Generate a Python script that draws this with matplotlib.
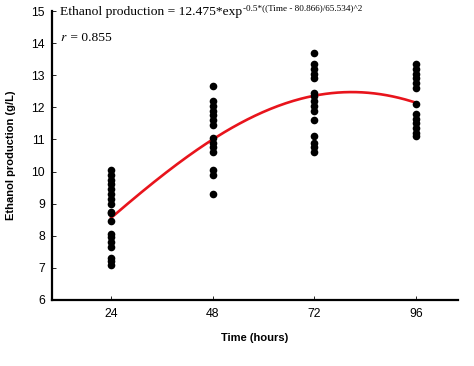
import matplotlib
matplotlib.use("Agg")
import matplotlib.pyplot as plt
import numpy as np

# ---- data ----
times = [24, 48, 72, 96]
g24 = [10.05, 9.9, 9.75, 9.6, 9.45, 9.3, 9.15, 9.0, 8.75, 8.7, 8.45,
       8.05, 7.95, 7.8, 7.65, 7.3, 7.2, 7.1]
g48 = [12.65, 12.2, 12.05, 11.9, 11.75, 11.6, 11.45, 11.05, 10.9, 10.75,
       10.6, 10.05, 9.9, 9.3]
g72 = [13.7, 13.35, 13.2, 13.05, 12.9, 12.45, 12.35, 12.2, 12.05, 11.9,
       11.6, 11.1, 10.9, 10.75, 10.6]
g96 = [13.35, 13.2, 13.05, 12.9, 12.75, 12.6, 12.1, 11.8, 11.65, 11.5,
       11.35, 11.2, 11.1]
groups = [g24, g48, g72, g96]
# fitted Gaussian model parameters
fit_a, fit_mu, fit_sigma = 12.475, 80.866, 65.534
r_value = 0.855
xticks = [24, 48, 72, 96]
yticks = [6, 7, 8, 9, 10, 11, 12, 13, 14, 15]

fig = plt.figure(figsize=(4.74, 3.66), dpi=100)
ax = fig.add_axes([52/474, 66/366, (458-52)/474, (300-11)/366])

for t, vals in zip(times, groups):
    ax.plot([t]*len(vals), vals, 'o', color='black', markersize=5.5,
            markeredgewidth=0, zorder=3)

tt = np.linspace(times[0], times[-1], 200)
yy = fit_a*np.exp(-0.5*((tt-fit_mu)/fit_sigma)**2)
ax.plot(tt, yy, color='#e8141c', lw=1.9, zorder=2)

ax.set_xlim(10, 106)
ax.set_ylim(6, 15)
ax.set_xticks(xticks)
ax.set_yticks(yticks)
for s in ['top', 'right']:
    ax.spines[s].set_visible(False)
for s in ['left', 'bottom']:
    ax.spines[s].set_linewidth(1.6)
ax.tick_params(direction='in', length=3, width=0.6, labelsize=8.8, pad=5)
for lab in ax.get_xticklabels() + ax.get_yticklabels():
    lab.set_fontfamily('Liberation Sans')
ax.tick_params(axis='x', pad=6)

ax.set_xlabel('Time (hours)', fontfamily='Liberation Sans', fontweight='bold',
              fontsize=8, labelpad=9)
ax.set_ylabel('Ethanol production (g/L)', fontfamily='Liberation Sans',
              fontweight='bold', fontsize=8, labelpad=11)

t1 = fig.text(60/474, 1-12/366, 'Ethanol production = 12.475*exp',
              fontfamily='Liberation Serif', fontsize=9.7, va='center')
fig.canvas.draw()
bb = t1.get_window_extent()
fig.text((bb.x1+1)/474, 1-8/366, '-0.5*((Time - 80.866)/65.534)^2',
         fontfamily='Liberation Serif', fontsize=6.6, va='center')
fig.text(60/474, 1-38/366, '$r$', fontfamily='Liberation Serif',
         fontsize=9.7, va='center', math_fontfamily='stix')
fig.text(67/474, 1-38/366, ' = %.3f' % r_value, fontfamily='Liberation Serif',
         fontsize=9.7, va='center')

fig.savefig('out.png', dpi=100)
